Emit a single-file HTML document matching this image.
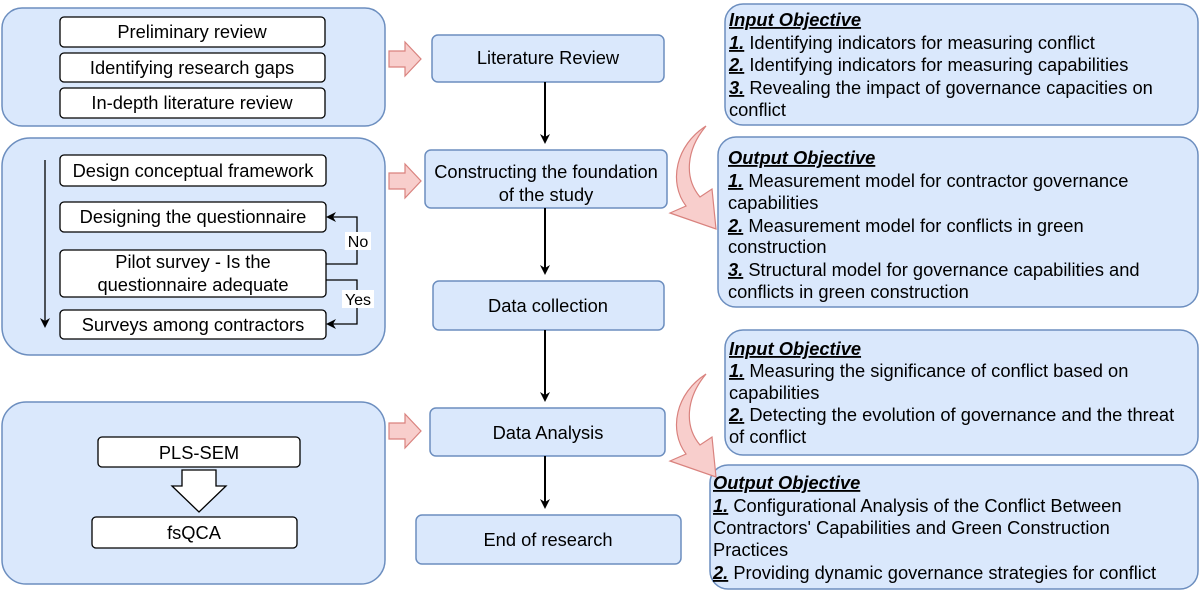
<!DOCTYPE html>
<html><head><meta charset="utf-8"><style>
html,body{margin:0;padding:0;background:#fff;}
svg{display:block;font-family:"Liberation Sans",Arial,sans-serif;}
</style></head><body>
<svg width="1200" height="591" viewBox="0 0 1200 591" xmlns="http://www.w3.org/2000/svg">
<defs>
<marker id="ah" markerWidth="10" markerHeight="10" refX="8" refY="5" orient="auto" markerUnits="userSpaceOnUse"><path d="M0,0 L10,5 L0,10 L3,5 Z" fill="#000"/></marker>
</defs>
<g fill="#dae8fc" stroke="#6c8ebf" stroke-width="1.5">
<rect x="2" y="8" width="383" height="118" rx="20"/>
<rect x="2" y="138" width="383" height="217" rx="28"/>
<rect x="2" y="402" width="383" height="182" rx="24"/>
<rect x="432" y="35" width="232" height="47" rx="6"/>
<rect x="425" y="150" width="242" height="58" rx="6"/>
<rect x="433" y="281" width="231" height="49" rx="6"/>
<rect x="430" y="408" width="235" height="48" rx="6"/>
<rect x="416" y="515" width="265" height="49" rx="6"/>
<rect x="725" y="4" width="473" height="121" rx="18"/>
<rect x="718" y="137" width="480" height="170" rx="18"/>
<rect x="725" y="330" width="473" height="125" rx="18"/>
<rect x="710" y="465" width="488" height="124" rx="18"/>
</g>
<g fill="#fff" stroke="#000" stroke-width="1.3">
<rect x="60" y="17" width="265" height="30" rx="4"/>
<rect x="60" y="53" width="265" height="29" rx="4"/>
<rect x="60" y="88" width="265" height="30" rx="4"/>
<rect x="60" y="155" width="266" height="31" rx="4"/>
<rect x="60" y="202" width="266" height="30" rx="4"/>
<rect x="60" y="250" width="266" height="47" rx="4"/>
<rect x="60" y="310" width="266" height="29" rx="4"/>
<rect x="98" y="437" width="202" height="30" rx="4"/>
<rect x="92" y="517" width="205" height="31" rx="4"/>
</g>
<g font-size="18.3" text-anchor="middle" fill="#000">
<text x="192" y="38">Preliminary review</text>
<text x="192" y="74">Identifying research gaps</text>
<text x="192" y="109">In-depth literature review</text>
<text x="193" y="177">Design conceptual framework</text>
<text x="193" y="223">Designing the questionnaire</text>
<text x="193" y="268">Pilot survey - Is the</text>
<text x="193" y="291">questionnaire adequate</text>
<text x="193" y="331">Surveys among contractors</text>
<text x="199" y="459">PLS-SEM</text>
<text x="194" y="539">fsQCA</text>
<text x="548" y="64">Literature Review</text>
<text x="546" y="178">Constructing the foundation</text>
<text x="546" y="201">of the study</text>
<text x="548" y="312">Data collection</text>
<text x="548" y="439">Data Analysis</text>
<text x="548" y="546">End of research</text>
</g>
<g stroke="#000" stroke-width="1.3" fill="none">
<line x1="45" y1="160" x2="45" y2="326" marker-end="url(#ah)"/>
<polyline points="326,264 357,264 357,217 328,217" marker-end="url(#ah)"/>
<polyline points="326,280 357,280 357,324 328,324" marker-end="url(#ah)"/>
</g>
<rect x="345" y="232" width="26" height="18" fill="#fff"/>
<text x="358" y="247" font-size="16" text-anchor="middle">No</text>
<rect x="342" y="290" width="32" height="18" fill="#fff"/>
<text x="358" y="305" font-size="16" text-anchor="middle">Yes</text>
<path d="M182,470 L216,470 L216,486 L226,486 L199,512 L172,486 L182,486 Z" fill="#fff" stroke="#000" stroke-width="1.3"/>
<g stroke="#000" stroke-width="2" fill="none">
<line x1="545" y1="82" x2="545" y2="142" marker-end="url(#ah)"/>
<line x1="545" y1="208" x2="545" y2="273" marker-end="url(#ah)"/>
<line x1="545" y1="330" x2="545" y2="400" marker-end="url(#ah)"/>
<line x1="545" y1="456" x2="545" y2="507" marker-end="url(#ah)"/>
</g>
<g fill="#f8cecc" stroke="#d9827e" stroke-width="1.2">
<path d="M389,51 L405,51 L405,42 L421,59 L405,76 L405,67 L389,67 Z"/>
<path d="M389,173 L405,173 L405,164 L421,181 L405,198 L405,189 L389,189 Z"/>
<path d="M389,423 L405,423 L405,414 L421,431 L405,448 L405,439 L389,439 Z"/>
<path d="M706,126 C676,145 668,182 686,206 L670,213 L716,229 L712,189 L700,197 C684,178 686,150 706,126 Z"/>
<path d="M706,374 C676,393 668,430 686,454 L670,461 L716,477 L712,437 L700,445 C684,426 686,398 706,374 Z"/>
</g>
<g font-size="18.3" fill="#000">
<text x="729" y="26" font-weight="bold" font-style="italic" text-decoration="underline">Input Objective</text>
<text x="729" y="49"><tspan font-weight="bold" font-style="italic" text-decoration="underline">1.</tspan> Identifying indicators for measuring conflict</text>
<text x="729" y="71"><tspan font-weight="bold" font-style="italic" text-decoration="underline">2.</tspan> Identifying indicators for measuring capabilities</text>
<text x="729" y="94"><tspan font-weight="bold" font-style="italic" text-decoration="underline">3.</tspan> Revealing the impact of governance capacities on</text>
<text x="729" y="116">conflict</text>
<text x="728" y="164" font-weight="bold" font-style="italic" text-decoration="underline">Output Objective</text>
<text x="728" y="187"><tspan font-weight="bold" font-style="italic" text-decoration="underline">1.</tspan> Measurement model for contractor governance</text>
<text x="728" y="209">capabilities</text>
<text x="728" y="232"><tspan font-weight="bold" font-style="italic" text-decoration="underline">2.</tspan> Measurement model for conflicts in green</text>
<text x="728" y="253">construction</text>
<text x="728" y="276"><tspan font-weight="bold" font-style="italic" text-decoration="underline">3.</tspan> Structural model for governance capabilities and</text>
<text x="728" y="298">conflicts in green construction</text>
<text x="729" y="355" font-weight="bold" font-style="italic" text-decoration="underline">Input Objective</text>
<text x="729" y="377"><tspan font-weight="bold" font-style="italic" text-decoration="underline">1.</tspan> Measuring the significance of conflict based on</text>
<text x="729" y="399">capabilities</text>
<text x="729" y="421"><tspan font-weight="bold" font-style="italic" text-decoration="underline">2.</tspan> Detecting the evolution of governance and the threat</text>
<text x="729" y="443">of conflict</text>
<text x="713" y="489" font-weight="bold" font-style="italic" text-decoration="underline">Output Objective</text>
<text x="713" y="512"><tspan font-weight="bold" font-style="italic" text-decoration="underline">1.</tspan> Configurational Analysis of the Conflict Between</text>
<text x="713" y="534">Contractors' Capabilities and Green Construction</text>
<text x="713" y="556">Practices</text>
<text x="713" y="579"><tspan font-weight="bold" font-style="italic" text-decoration="underline">2.</tspan> Providing dynamic governance strategies for conflict</text>
</g>
</svg>
</body></html>
